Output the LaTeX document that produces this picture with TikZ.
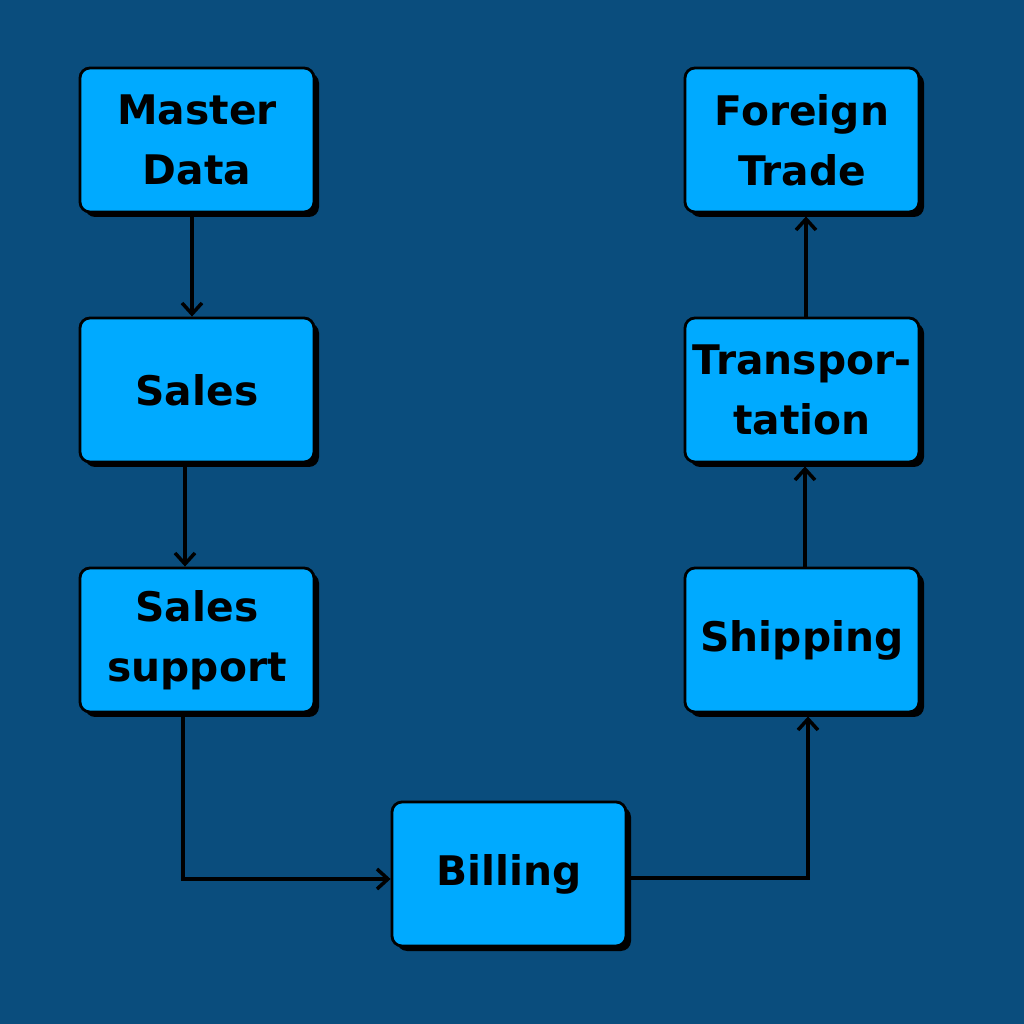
\documentclass[tikz,border=0pt]{standalone}
\usepackage{tikz}
\usetikzlibrary{arrows.meta,positioning,shadows,calc}
\usepackage{xcolor}
\usepackage{fontspec}
\setmainfont{DejaVu Sans}
\definecolor{bgblue}{HTML}{0A4D7D}
\definecolor{boxblue}{HTML}{00AAFF}
\definecolor{ink}{HTML}{000000}

\begin{document}
\begin{tikzpicture}[
  >=Stealth,
  mod/.style={draw=ink, fill=boxblue, line width=0.8pt, rounded corners=0.1cm,
    minimum width=2.34cm, minimum height=1.44cm, inner xsep=0.05cm, align=center,
    font=\fontsize{11.6pt}{17pt}\selectfont\bfseries, text=ink,
    drop shadow={shadow xshift=0.05cm, shadow yshift=-0.05cm, fill=ink, opacity=1}},
  arr/.style={-{Straight Barb[length=0.11cm, width=0.2cm]}, line width=1pt, color=ink, line cap=round},
]

% background
\fill[bgblue] (0,0) rectangle (10.24,10.24);
\useasboundingbox (0,0) rectangle (10.24,10.24);

\node[mod] (master) at (1.97, 8.84) {Master\\Data};
\node[mod] (sales) at (1.97, 6.34) {Sales};
\node[mod] (support) at (1.97, 3.84) {Sales\\support};

\node[mod] (billing) at (5.09, 1.50) {Billing};

\node[mod] (shipping) at (8.02, 3.84) {Shipping};
\node[mod] (transport) at (8.02, 6.34) {Transpor-\\tation};
\node[mod] (foreign) at (8.02, 8.84) {Foreign\\Trade};

\draw[arr] ([xshift=-0.05cm]master.south) -- ([xshift=-0.05cm]sales.north);
\draw[arr] ([xshift=-0.12cm]sales.south) -- ([xshift=-0.12cm]support.north);
\draw[arr] ([xshift=-0.14cm]support.south) |- ([yshift=-0.05cm]billing.west);
\draw[arr] ([yshift=-0.04cm]billing.east) -| ([xshift=0.06cm,yshift=-0.03cm]shipping.south);
\draw[arr] ([xshift=0.03cm]shipping.north) -- ([xshift=0.03cm,yshift=-0.03cm]transport.south);
\draw[arr] ([xshift=0.04cm]transport.north) -- ([xshift=0.04cm,yshift=-0.03cm]foreign.south);

\end{tikzpicture}
\end{document}
